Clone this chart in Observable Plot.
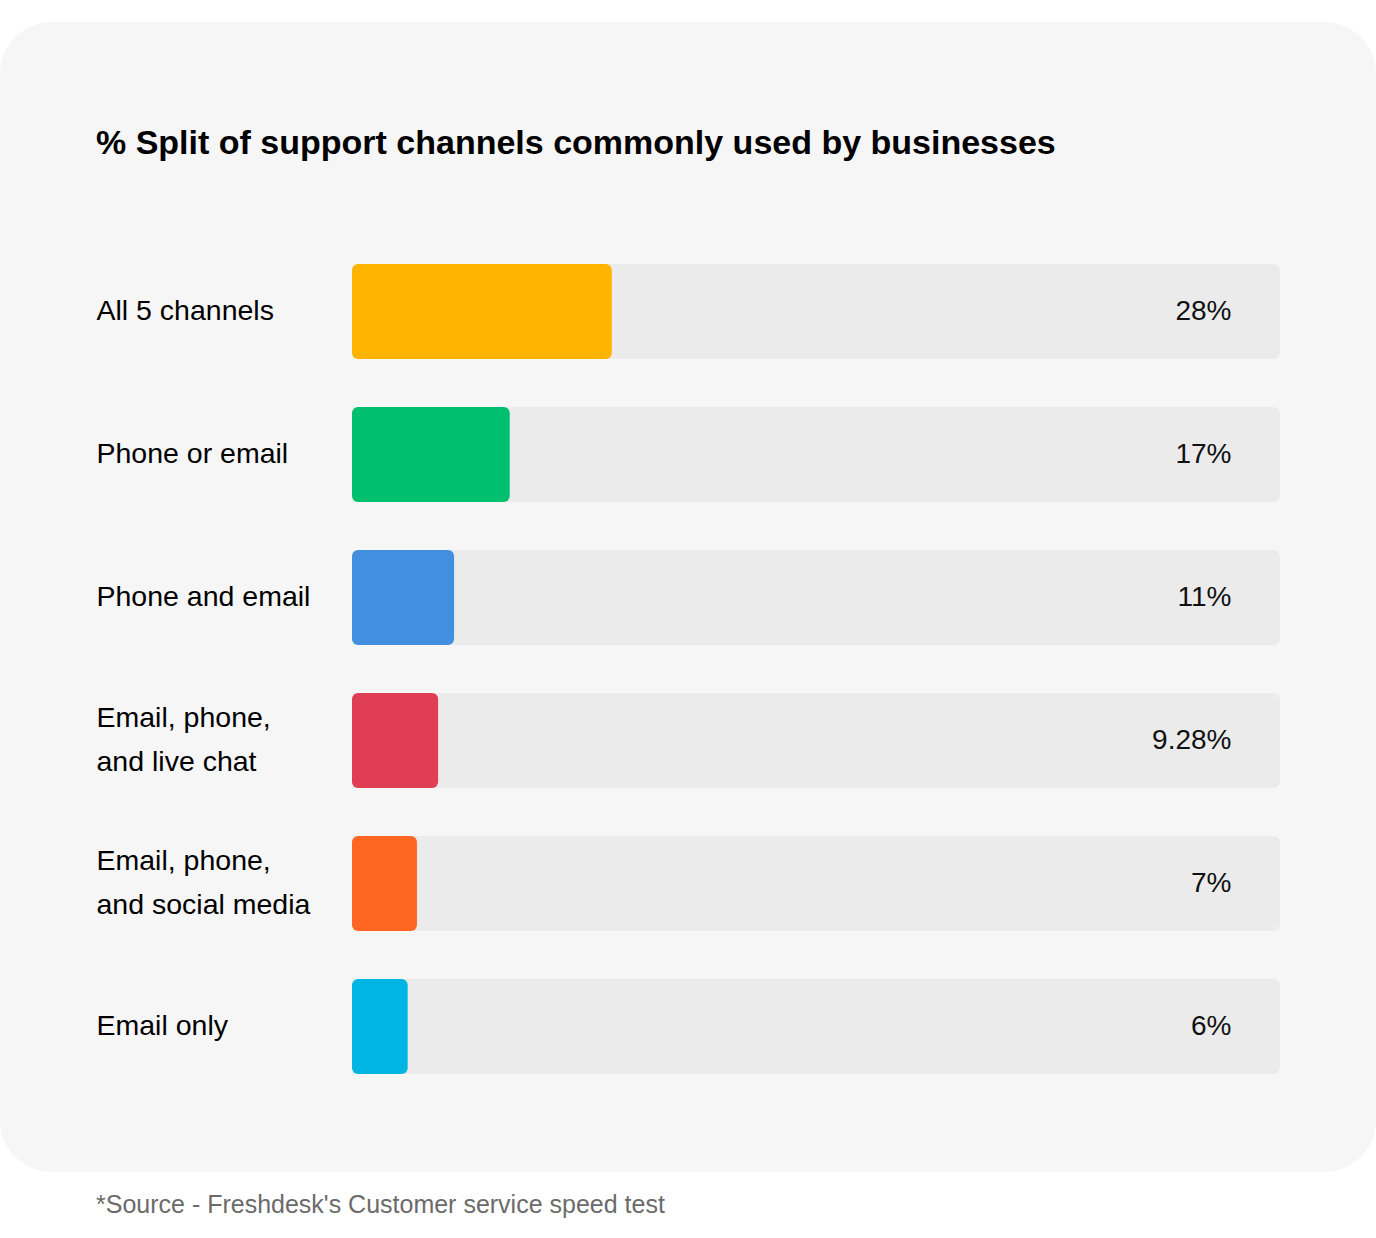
<!DOCTYPE html>
<html>
<head>
<meta charset="utf-8">
<script src="https://cdn.jsdelivr.net/npm/d3@7"></script>
<script src="https://cdn.jsdelivr.net/npm/@observablehq/plot@0.6"></script>
<style>
  html, body { margin: 0; padding: 0; background: #ffffff; }
  body { width: 1376px; height: 1238px; position: relative; overflow: hidden;
         font-family: "Liberation Sans", Arial, Helvetica, sans-serif; }
  #card { position: absolute; left: 0; top: 22px; width: 1376px; height: 1150px;
          background: #f6f6f6; border-radius: 52px; }
  #title { position: absolute; left: 96px; top: 123px; margin: 0;
           font-size: 34px; font-weight: bold; color: #000; white-space: nowrap; }
  #chart { position: absolute; left: 0; top: 0; }
  #source { position: absolute; left: 96px; top: 1190px; margin: 0;
            font-size: 25px; color: #6b6b6b; white-space: nowrap; }
</style>
</head>
<body>
<div id="card"></div>
<h1 id="title">% Split of support channels commonly used by businesses</h1>
<div id="chart"></div>
<p id="source">*Source - Freshdesk's Customer service speed test</p>
<script>
const categories = [
  "All 5 channels",
  "Phone or email",
  "Phone and email",
  "Email, phone,\nand live chat",
  "Email, phone,\nand social media",
  "Email only"
];
const values = [28, 17, 11, 9.28, 7, 6];
const valueLabels = ["28%", "17%", "11%", "9.28%", "7%", "6%"];
const colors = ["#FFB500", "#00BF6F", "#428FE0", "#E03E52", "#FF6622", "#00B5E2"];

const data = categories.map((c, i) => ({
  cat: c, value: values[i], label: valueLabels[i], color: colors[i]
}));

const chart = Plot.plot({
  width: 1376,
  height: 1238,
  margin: 0,
  style: { background: "transparent", fontFamily: "'Liberation Sans', Arial, Helvetica, sans-serif" },
  x: { domain: [0, 100], range: [352, 1280], axis: null },
  y: { domain: categories, range: [262, 1075], paddingInner: 0.338, paddingOuter: 0, axis: null },
  color: { type: "identity" },
  marks: [
    Plot.barX(data, { x1: 0, x2: 100, y: "cat", fill: "#ebebeb", rx: 7 }),
    Plot.barX(data, { x1: 0, x2: "value", y: "cat", fill: "color", rx: 6 }),
    Plot.text(data, { x: 100, y: "cat", text: "label", textAnchor: "end", dx: -49, dy: -1,
                      fontSize: 28, fill: "#111" }),
    Plot.text(data, { x: 0, y: "cat", text: "cat", textAnchor: "start", dx: -256, dy: -6,
                      fontSize: 28.5, lineHeight: 1.55, fill: "#000" })
  ]
});
document.getElementById("chart").appendChild(chart);
</script>
</body>
</html>
